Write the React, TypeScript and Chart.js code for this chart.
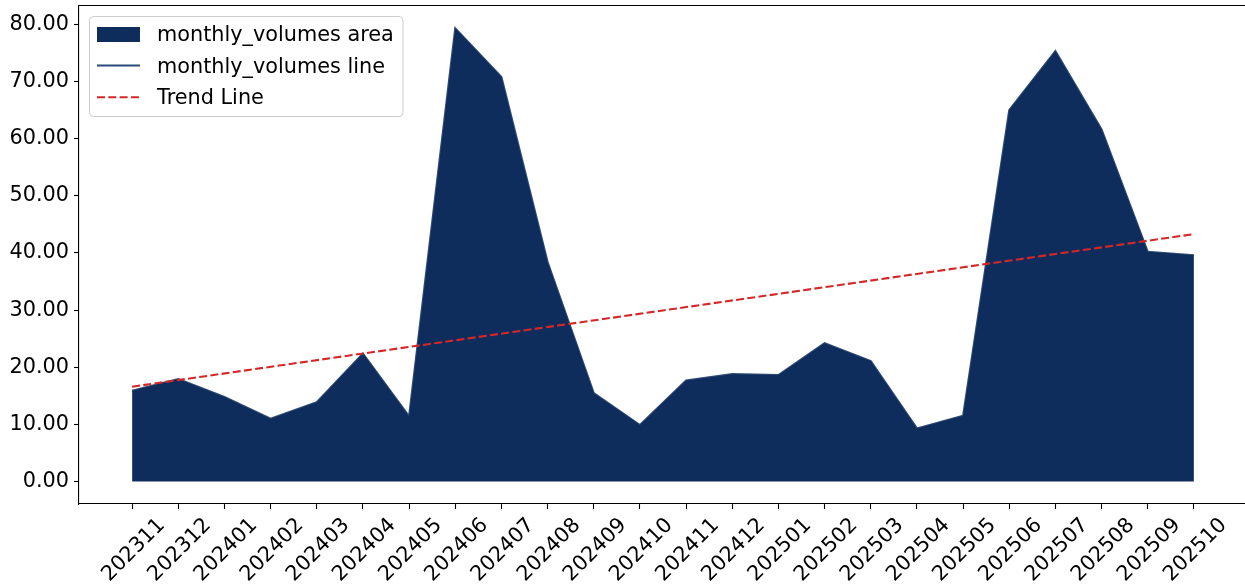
import React, { useEffect, useRef } from 'react';
import { Chart, registerables } from 'chart.js';

Chart.register(...registerables);

const categories: string[] = [
  '202311', '202312', '202401', '202402', '202403', '202404', '202405', '202406',
  '202407', '202408', '202409', '202410', '202411', '202412', '202501', '202502',
  '202503', '202504', '202505', '202506', '202507', '202508', '202509', '202510',
];

const monthlyVolumes: number[] = [
  15.9, 17.95, 14.8, 11.0, 13.9, 22.4, 11.4, 79.3,
  70.8, 38.4, 15.5, 9.9, 17.7, 18.8, 18.65, 24.2,
  21.1, 9.3, 11.5, 65.0, 75.3, 61.6, 40.2, 39.6,
];

// trend line values at the first and last month
const trendLine: number[] = [16.6, 43.3];

const yTicks: number[] = [0, 10, 20, 30, 40, 50, 60, 70, 80];

const legendLabels: string[] = ['monthly_volumes area', 'monthly_volumes line', 'Trend Line'];

const FS = 20.8;
const FONT_FAMILY = '"DejaVu Sans", sans-serif';
const AREA_COLOR = '#0e2d5c';
const LINE_COLOR = 'rgba(14,45,92,0.85)';
const TREND_COLOR = '#d62728';
const DASH = [8, 3.3];

export default function App() {
  const ref = useRef<HTMLCanvasElement>(null);

  useEffect(() => {
    document.body.style.margin = '0';
    document.body.style.overflow = 'hidden';
    const canvas = ref.current;
    if (!canvas) return;
    const fontSpec = `${FS}px ${FONT_FAMILY}`;
    const n = categories.length;
    const pts = monthlyVolumes.map((v, i) => ({ x: i, y: v }));
    const trendPts = [
      { x: 0, y: trendLine[0] },
      { x: n - 1, y: trendLine[1] },
    ];

    const extras = {
      id: 'extras',
      afterDraw(chart: any) {
        const { ctx, chartArea, scales } = chart;
        const xs = scales.x;
        ctx.save();
        // top spine (right spine falls outside the picture)
        ctx.strokeStyle = '#000';
        ctx.lineWidth = 1.1;
        ctx.beginPath();
        ctx.moveTo(chartArea.left, chartArea.top);
        ctx.lineTo(chartArea.right + 5, chartArea.top);
        ctx.stroke();

        // rotated x tick labels (centered on tick)
        ctx.font = fontSpec;
        ctx.fillStyle = '#000';
        ctx.textAlign = 'center';
        ctx.textBaseline = 'alphabetic';
        categories.forEach((c, i) => {
          const px = xs.getPixelForValue(i);
          ctx.save();
          ctx.translate(px, chartArea.bottom + 44.5);
          ctx.rotate(-Math.PI / 4);
          ctx.fillText(c, 0, FS * 0.365);
          ctx.restore();
        });

        // legend
        const L = chartArea.left;
        const T = chartArea.top;
        const bx = L + 10.5, by = T + 11, bw = 313.5, bh = 100, r = 4;
        ctx.beginPath();
        ctx.moveTo(bx + r, by);
        ctx.lineTo(bx + bw - r, by);
        ctx.arcTo(bx + bw, by, bx + bw, by + r, r);
        ctx.lineTo(bx + bw, by + bh - r);
        ctx.arcTo(bx + bw, by + bh, bx + bw - r, by + bh, r);
        ctx.lineTo(bx + r, by + bh);
        ctx.arcTo(bx, by + bh, bx, by + bh - r, r);
        ctx.lineTo(bx, by + r);
        ctx.arcTo(bx, by, bx + r, by, r);
        ctx.closePath();
        ctx.fillStyle = 'rgba(255,255,255,0.8)';
        ctx.fill();
        ctx.strokeStyle = '#cccccc';
        ctx.lineWidth = 1;
        ctx.stroke();

        const hx0 = L + 18, hx1 = L + 61;
        const rowBase = [T + 35.2, T + 67, T + 98.7];
        // patch
        ctx.fillStyle = AREA_COLOR;
        ctx.fillRect(hx0, rowBase[0] - 13.7, hx1 - hx0, 15);
        // line
        ctx.strokeStyle = '#2b4a7a';
        ctx.lineWidth = 2.1;
        ctx.beginPath();
        ctx.moveTo(hx0, rowBase[1] - 7);
        ctx.lineTo(hx1, rowBase[1] - 7);
        ctx.stroke();
        // trend
        ctx.strokeStyle = TREND_COLOR;
        ctx.setLineDash(DASH);
        ctx.beginPath();
        ctx.moveTo(hx0, rowBase[2] - 7);
        ctx.lineTo(hx1, rowBase[2] - 7);
        ctx.stroke();
        ctx.setLineDash([]);

        ctx.fillStyle = '#000';
        ctx.textAlign = 'left';
        ctx.textBaseline = 'alphabetic';
        legendLabels.forEach((t, i) => {
          ctx.fillText(t, L + 78, rowBase[i]);
        });
        ctx.restore();
      },
    };

    const chart = new Chart(canvas, {
      type: 'line',
      data: {
        datasets: [
          {
            label: legendLabels[2],
            data: trendPts,
            borderColor: TREND_COLOR,
            borderWidth: 2.1,
            borderDash: DASH,
            pointRadius: 0,
            fill: false,
            tension: 0,
          },
          {
            label: legendLabels[1],
            data: pts,
            borderColor: LINE_COLOR,
            borderWidth: 2.1,
            pointRadius: 0,
            fill: false,
            tension: 0,
          },
          {
            label: legendLabels[0],
            data: pts,
            borderColor: AREA_COLOR,
            borderWidth: 0,
            backgroundColor: AREA_COLOR,
            pointRadius: 0,
            fill: 'origin',
            tension: 0,
          },
        ],
      },
      options: {
        animation: false,
        responsive: false,
        devicePixelRatio: 1,
        layout: { padding: { top: 5.5, right: 3, left: 0, bottom: 0 } },
        plugins: {
          legend: { display: false },
          tooltip: { enabled: false },
        },
        scales: {
          x: {
            type: 'linear',
            min: -1.15,
            max: n - 1 + 1.15,
            afterBuildTicks: (s: any) => {
              s.ticks = categories.map((_, i) => ({ value: i }));
            },
            afterFit: (s: any) => {
              s.height = 81;
              s.paddingLeft = 0;
              s.paddingRight = 0;
              s.paddingTop = 0;
              s.paddingBottom = 0;
            },
            ticks: { display: false, autoSkip: false },
            grid: {
              display: true,
              drawOnChartArea: false,
              drawTicks: true,
              tickLength: 5,
              tickColor: '#000',
              tickWidth: 1.1,
            },
            border: { display: true, color: '#000', width: 1.1 },
          },
          y: {
            type: 'linear',
            min: -3.92,
            max: 83.3,
            afterBuildTicks: (s: any) => {
              s.ticks = yTicks.map((v) => ({ value: v }));
            },
            afterFit: (s: any) => {
              s.width = 79;
              s.paddingTop = 0;
              s.paddingBottom = 0;
              s.paddingLeft = 0;
              s.paddingRight = 0;
            },
            ticks: {
              padding: 5,
              color: '#000',
              font: { family: FONT_FAMILY, size: FS },
              callback: (v: any) => Number(v).toFixed(2),
            },
            grid: {
              display: true,
              drawOnChartArea: false,
              drawTicks: true,
              tickLength: 5,
              tickColor: '#000',
              tickWidth: 1.1,
            },
            border: { display: true, color: '#000', width: 1.1 },
          },
        },
      },
      plugins: [extras],
    });

    return () => {
      chart.destroy();
    };
  }, []);

  return (
    <div style={{ width: 1245, height: 585, overflow: 'hidden', background: '#fff' }}>
      <canvas ref={ref} width={1250} height={585} style={{ display: 'block' }} />
    </div>
  );
}
